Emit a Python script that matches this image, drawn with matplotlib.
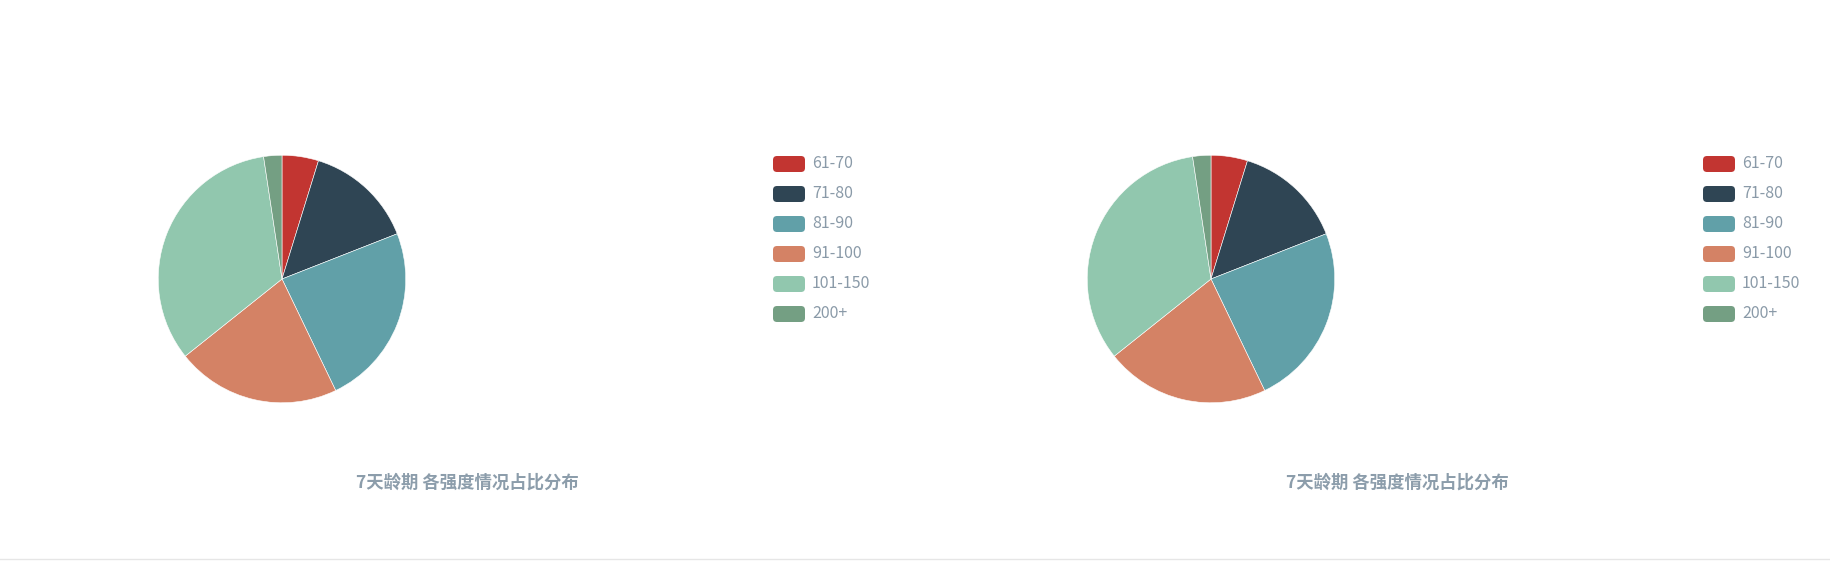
import matplotlib.pyplot as plt
from matplotlib.patches import FancyBboxPatch
from matplotlib.lines import Line2D

plt.rcParams['font.family'] = ['Noto Sans CJK SC', 'DejaVu Sans']

W, H = 1830, 582

# data
labels = ['61-70', '71-80', '81-90', '91-100', '101-150', '200+']
counts_left = [2, 6, 10, 9, 14, 1]
counts_right = [2, 6, 10, 9, 14, 1]
colors = ['#c23531', '#2f4554', '#61a0a8', '#d48265', '#91c7ae', '#749f83']
title_text = '7天龄期 各强度情况占比分布'

# layout in pixels (from top-left)
panels = [
    dict(counts=counts_left, cx=282, cy=279, r=125, legend_x=773, title_x=467),
    dict(counts=counts_right, cx=1211, cy=279, r=125, legend_x=1703, title_x=1397),
]

fig = plt.figure(figsize=(W / 100, H / 100), dpi=100)
fig.patch.set_facecolor('white')

# overlay axes in pixel coordinates for legend, titles and separator
over = fig.add_axes([0, 0, 1, 1])
over.set_xlim(0, W)
over.set_ylim(H, 0)
over.axis('off')

for p in panels:
    ax = fig.add_axes([(p['cx'] - p['r']) / W, (H - p['cy'] - p['r']) / H,
                       2 * p['r'] / W, 2 * p['r'] / H])
    ax.pie(p['counts'], colors=colors, startangle=90, counterclock=False,
           radius=1.0,
           wedgeprops=dict(edgecolor='white', linewidth=0.4))
    ax.set_xlim(-1.01, 1.01)
    ax.set_ylim(-1.01, 1.01)
    ax.set_aspect('equal')
    ax.axis('off')

    # legend
    for i, (lab, col) in enumerate(zip(labels, colors)):
        yc = 164 + i * 30
        box = FancyBboxPatch((p['legend_x'], yc - 8), 32, 16,
                             boxstyle='round,pad=0,rounding_size=4',
                             facecolor=col, edgecolor='none')
        over.add_patch(box)
        over.text(p['legend_x'] + 39, yc, lab, fontsize=11.5, color='#8a9aa8',
                  va='center', ha='left')

    over.text(p['title_x'], 483, title_text, fontsize=12.5, fontweight='bold',
              color='#8c9dab', ha='center', va='center')

over.add_line(Line2D([0, W], [559, 559], color='#e6e6e6', linewidth=1.0))

fig.savefig('out.png', dpi=100, facecolor='white')
